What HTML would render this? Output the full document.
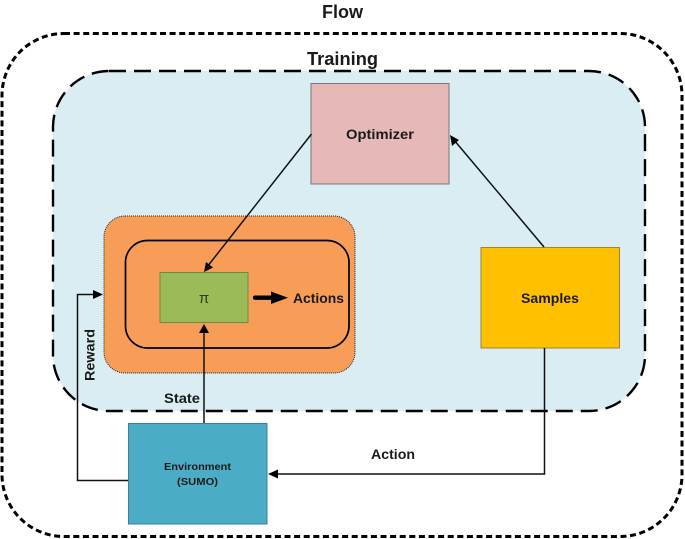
<!DOCTYPE html>
<html>
<head>
<meta charset="utf-8">
<style>
html,body{margin:0;padding:0;background:#fff;width:685px;height:539px;overflow:hidden}
svg{display:block}
text{font-family:"Liberation Sans",sans-serif;font-weight:bold;fill:#1a1a1a}
</style>
</head>
<body>
<svg width="685" height="539" viewBox="0 0 685 539" xmlns="http://www.w3.org/2000/svg">
<rect x="2" y="33.5" width="680" height="503" rx="62" ry="62" fill="#fff" stroke="#000" stroke-width="3" stroke-dasharray="6 3.6"/>
<rect x="53" y="71" width="592" height="340" rx="56" ry="56" fill="#daedf3" stroke="#000" stroke-width="2.4" stroke-dasharray="17 8"/>
<rect x="104" y="216" width="251" height="157" rx="21" ry="21" fill="#f79d58" stroke="#222" stroke-width="1" stroke-dasharray="1 1"/>
<rect x="125.5" y="240.5" width="223.5" height="107.5" rx="22" ry="22" fill="none" stroke="#000" stroke-width="1.7"/>
<rect x="160" y="272.5" width="88" height="50" fill="#9bbb59" stroke="#6f8a3e" stroke-width="1"/>
<rect x="311" y="83.5" width="138" height="100.5" fill="#e6b8b7" stroke="#777" stroke-width="1"/>
<rect x="481" y="247.5" width="138.5" height="100.5" fill="#ffc000" stroke="#9a8440" stroke-width="1"/>
<rect x="128.5" y="423.5" width="138.5" height="100.5" fill="#4bacc6" stroke="#3a7f93" stroke-width="1"/>

<g fill="none" stroke="#111" stroke-width="1.5">
<line x1="311.5" y1="134" x2="207" y2="267"/>
<line x1="544" y1="247" x2="454" y2="140"/>
<line x1="204" y1="423" x2="204" y2="331"/>
<polyline points="128,480.5 77.5,480.5 77.5,294.5 95,294.5"/>
<polyline points="544.5,348 544.5,474 277,474"/>
</g>
<g fill="#000" stroke="none">
<polygon points="204,272 206,262 213,267.5"/>
<polygon points="450,135 459,140 452,146"/>
<polygon points="204,324 199,333 209,333"/>
<polygon points="103,294.5 93,290 93,299"/>
<polygon points="268,474 278,469.5 278,478.5"/>
<rect x="253" y="295.5" width="20" height="4.4" rx="2"/>
<polygon points="288,297.7 271,291.5 271,304"/>
</g>

<text x="322" y="18" font-size="18.5" textLength="41" lengthAdjust="spacingAndGlyphs">Flow</text>
<text x="307" y="65" font-size="18.5" textLength="71" lengthAdjust="spacingAndGlyphs">Training</text>
<text x="346" y="139" font-size="14" textLength="68" lengthAdjust="spacingAndGlyphs">Optimizer</text>
<text x="521" y="303" font-size="14" textLength="58" lengthAdjust="spacingAndGlyphs">Samples</text>
<text x="293" y="303" font-size="14" textLength="51" lengthAdjust="spacingAndGlyphs">Actions</text>
<text x="164" y="403" font-size="14" textLength="36" lengthAdjust="spacingAndGlyphs">State</text>
<text x="371" y="459" font-size="14" textLength="44" lengthAdjust="spacingAndGlyphs">Action</text>
<text x="164" y="470" font-size="10.5" textLength="67" lengthAdjust="spacingAndGlyphs">Environment</text>
<text x="177" y="485" font-size="10.5" textLength="41" lengthAdjust="spacingAndGlyphs">(SUMO)</text>
<text transform="translate(94.5,381) rotate(-90)" x="0" y="0" font-size="14" textLength="52" lengthAdjust="spacingAndGlyphs">Reward</text>
<text x="204" y="303" font-size="15" text-anchor="middle" style="font-weight:normal;fill:#2f3f1a">π</text>
</svg>
</body>
</html>
